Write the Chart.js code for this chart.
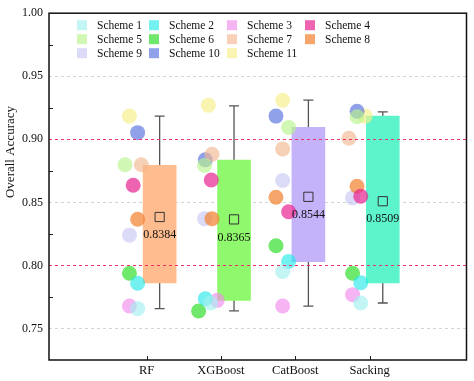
<!DOCTYPE html>
<html>
<head>
<meta charset="utf-8">
<script src="https://cdn.jsdelivr.net/npm/chart.js@4"></script>
<style>
  html, body { margin: 0; padding: 0; background: #fff; }
  #chart { display: block; }
</style>
</head>
<body>
<canvas id="chart" width="474" height="381"></canvas>
<script>
const models = ['RF', 'XGBoost', 'CatBoost', 'Sacking'];
const schemes = ['Scheme 1', 'Scheme 2', 'Scheme 3', 'Scheme 4', 'Scheme 5', 'Scheme 6',
                 'Scheme 7', 'Scheme 8', 'Scheme 9', 'Scheme 10', 'Scheme 11'];

// accuracy of each scheme (Scheme 1 .. Scheme 11)
const rfScores       = [0.7657, 0.7859, 0.7678, 0.8636, 0.8798, 0.7938, 0.8798, 0.8366, 0.8240, 0.9053, 0.9184];
const xgboostScores  = [0.7702, 0.7736, 0.7723, 0.8677, 0.8793, 0.7639, 0.8882, 0.8370, 0.8370, 0.8838, 0.9271];
const catboostScores = [0.7951, 0.8032, 0.7678, 0.8426, 0.9094, 0.8156, 0.8924, 0.8541, 0.8673, 0.9184, 0.9310];
const sackingScores  = [0.7702, 0.7862, 0.7768, 0.8549, 0.9179, 0.7938, 0.9008, 0.8628, 0.8536, 0.9223, 0.9184];

// horizontal jitter of the dots
const rfJitter       = [-0.12, -0.12, -0.23, -0.18, -0.29, -0.23, -0.07, -0.12, -0.23, -0.12, -0.23];
const xgboostJitter  = [-0.14, -0.21, -0.05, -0.13, -0.22, -0.30, -0.12, -0.12, -0.22, -0.21, -0.17];
const catboostJitter = [-0.17, -0.09, -0.17, -0.09, -0.09, -0.26, -0.17, -0.26, -0.17, -0.26, -0.17];
const sackingJitter  = [-0.12, -0.12, -0.23, -0.12, -0.17, -0.23, -0.28, -0.17, -0.23, -0.17, -0.06];

// box statistics
const boxLow      = [0.7862, 0.7723, 0.8030, 0.7862];
const boxHigh     = [0.8793, 0.8835, 0.9094, 0.9184];
const whiskerLow  = [0.7657, 0.7639, 0.7678, 0.7702];
const whiskerHigh = [0.9184, 0.9265, 0.9310, 0.9218];
const means       = [0.8384, 0.8365, 0.8544, 0.8509];

const yTicks = [0.75, 0.80, 0.85, 0.90, 0.95, 1.00];
const yMinorTicks = [0.775, 0.825, 0.875, 0.925, 0.975];
const redLines = [0.80, 0.90];

const allScores = [rfScores, xgboostScores, catboostScores, sackingScores];
const allJitter = [rfJitter, xgboostJitter, catboostJitter, sackingJitter];

const schemeColors = [
    'rgba(165,240,240,0.65)', 'rgba(40,232,232,0.65)', 'rgba(242,140,236,0.65)',
    'rgba(232,40,145,0.72)', 'rgba(185,242,140,0.65)', 'rgba(50,222,45,0.7)',
    'rgba(242,185,145,0.65)', 'rgba(242,130,50,0.72)', 'rgba(200,200,242,0.65)',
    'rgba(85,110,222,0.65)', 'rgba(248,238,135,0.65)'
];
const boxColors = ['#ffbc8f', '#8ff86c', '#c4b3f9', '#5df4cc'];
const BOX_SHIFT = 0.176;
const FONT = "'Liberation Serif', 'Times New Roman', serif";
const isRed = v => redLines.some(r => Math.abs(r - v) < 1e-6);

const schemeSets = schemes.map((name, s) => ({
    type: 'scatter',
    label: name,
    order: 2,
    data: models.map((m, i) => ({ x: i + allJitter[i][s], y: allScores[i][s] })),
    backgroundColor: schemeColors[s],
    borderWidth: 0,
    pointRadius: 7.5,
    pointHoverRadius: 7.5
}));

const boxSet = {
    type: 'bar',
    label: 'box',
    order: 3,
    data: models.map((m, i) => ({ x: i + BOX_SHIFT, y: [boxLow[i], boxHigh[i]] })),
    backgroundColor: boxColors,
    borderWidth: 0,
    barThickness: 33,
    grouped: false
};

const meanSet = {
    type: 'scatter',
    label: 'mean',
    order: 1,
    data: models.map((m, i) => ({ x: i + BOX_SHIFT, y: means[i] })),
    pointStyle: 'rect',
    pointRadius: 6.5,
    pointHoverRadius: 6.5,
    backgroundColor: 'rgba(0,0,0,0)',
    borderColor: '#333',
    borderWidth: 1
};

// whiskers behind the boxes
const whiskerPlugin = {
    id: 'whiskers',
    beforeDatasetsDraw(chart) {
        const { ctx, chartArea: a, scales: { x, y } } = chart;
        ctx.save();
        ctx.strokeStyle = '#555';
        ctx.lineWidth = 1.3;
        models.forEach((m, i) => {
            const px = x.getPixelForValue(i + BOX_SHIFT);
            const top = y.getPixelForValue(whiskerHigh[i]);
            const bot = y.getPixelForValue(whiskerLow[i]);
            ctx.beginPath();
            ctx.moveTo(px, top); ctx.lineTo(px, bot);
            ctx.moveTo(px - 5, top); ctx.lineTo(px + 5, top);
            ctx.moveTo(px - 5, bot); ctx.lineTo(px + 5, bot);
            ctx.stroke();
        });
        ctx.restore();
    },
    afterDatasetsDraw(chart) {
        // red reference lines stay on top of the boxes
        const { ctx, chartArea: a, scales: { y } } = chart;
        ctx.save();
        ctx.strokeStyle = '#f0306a';
        ctx.lineWidth = 1.2;
        ctx.setLineDash([3, 3]);
        redLines.forEach(v => {
            const py = Math.round(y.getPixelForValue(v)) + 0.5;
            ctx.beginPath();
            ctx.moveTo(a.left, py); ctx.lineTo(a.right, py);
            ctx.stroke();
        });
        ctx.restore();
    }
};

// frame, inner ticks, mean labels, legend and y title
const decorPlugin = {
    id: 'decor',
    afterDraw(chart) {
        const { ctx, chartArea: a, scales: { x, y } } = chart;
        ctx.save();

        // mean labels
        ctx.fillStyle = '#111';
        ctx.font = '12px ' + FONT;
        ctx.textAlign = 'center';
        ctx.textBaseline = 'middle';
        models.forEach((m, i) => {
            ctx.fillText(means[i].toFixed(4), x.getPixelForValue(i + BOX_SHIFT), y.getPixelForValue(means[i]) + 18);
        });

        // ticks pointing inside
        ctx.strokeStyle = '#222';
        ctx.lineWidth = 1;
        ctx.beginPath();
        yMinorTicks.forEach(v => {
            const py = Math.round(y.getPixelForValue(v)) + 0.5;
            ctx.moveTo(a.left, py); ctx.lineTo(a.left + 4, py);
        });
        models.forEach((m, i) => {
            const px = Math.round(x.getPixelForValue(i)) + 0.5;
            ctx.moveTo(px, a.bottom); ctx.lineTo(px, a.bottom - 4);
        });
        ctx.stroke();

        // frame
        ctx.lineWidth = 1.5;
        ctx.strokeStyle = '#111';
        ctx.strokeRect(a.left, a.top, a.right - a.left, a.bottom - a.top);

        // legend
        const colX = [a.left + 33, a.left + 105, a.left + 183, a.left + 261];
        const rowY = [a.top + 12, a.top + 26, a.top + 40];
        ctx.font = '11.5px ' + FONT;
        ctx.textAlign = 'left';
        schemes.forEach((name, s) => {
            const cx = colX[s % 4];
            const cy = rowY[Math.floor(s / 4)];
            ctx.fillStyle = schemeColors[s];
            ctx.fillRect(cx - 5, cy - 5, 10, 10);
            ctx.fillStyle = '#111';
            ctx.fillText(name, cx + 15, cy + 0.5);
        });

        // y axis title
        ctx.translate(11, 152);
        ctx.rotate(-Math.PI / 2);
        ctx.font = '13px ' + FONT;
        ctx.textAlign = 'center';
        ctx.fillStyle = '#111';
        ctx.fillText('Overall Accuracy', 0, 0);
        ctx.restore();
    }
};

new Chart(document.getElementById('chart'), {
    type: 'scatter',
    data: { datasets: [...schemeSets, meanSet, boxSet] },
    options: {
        responsive: false,
        animation: false,
        events: [],
        layout: { padding: { top: 11, right: 4, left: 0, bottom: 0 } },
        plugins: { legend: { display: false }, tooltip: { enabled: false } },
        scales: {
            x: {
                type: 'linear',
                min: -0.61,
                max: 3.60,
                afterBuildTicks: scale => { scale.ticks = models.map((m, i) => ({ value: i })); },
                afterFit: scale => { scale.height = 21; },
                ticks: {
                    callback: v => models[v],
                    font: { family: FONT, size: 12.5 },
                    color: '#111',
                    padding: 3,
                    maxRotation: 0
                },
                grid: { display: false, drawTicks: false },
                border: { display: false }
            },
            y: {
                type: 'linear',
                min: 0.725,
                max: 1.0,
                afterBuildTicks: scale => { scale.ticks = yTicks.map(v => ({ value: v })); },
                afterFit: scale => { scale.width = 49; },
                ticks: {
                    callback: v => v.toFixed(2),
                    font: { family: FONT, size: 12 },
                    color: '#111',
                    padding: 6
                },
                grid: {
                    drawTicks: false,
                    lineWidth: 1,
                    color: c => (isRed(c.tick.value) || c.tick.value >= 1) ? 'rgba(0,0,0,0)' : '#d4d4d4'
                },
                border: { display: false, dash: [3, 3] }
            }
        }
    },
    plugins: [whiskerPlugin, decorPlugin]
});
</script>
</body>
</html>
